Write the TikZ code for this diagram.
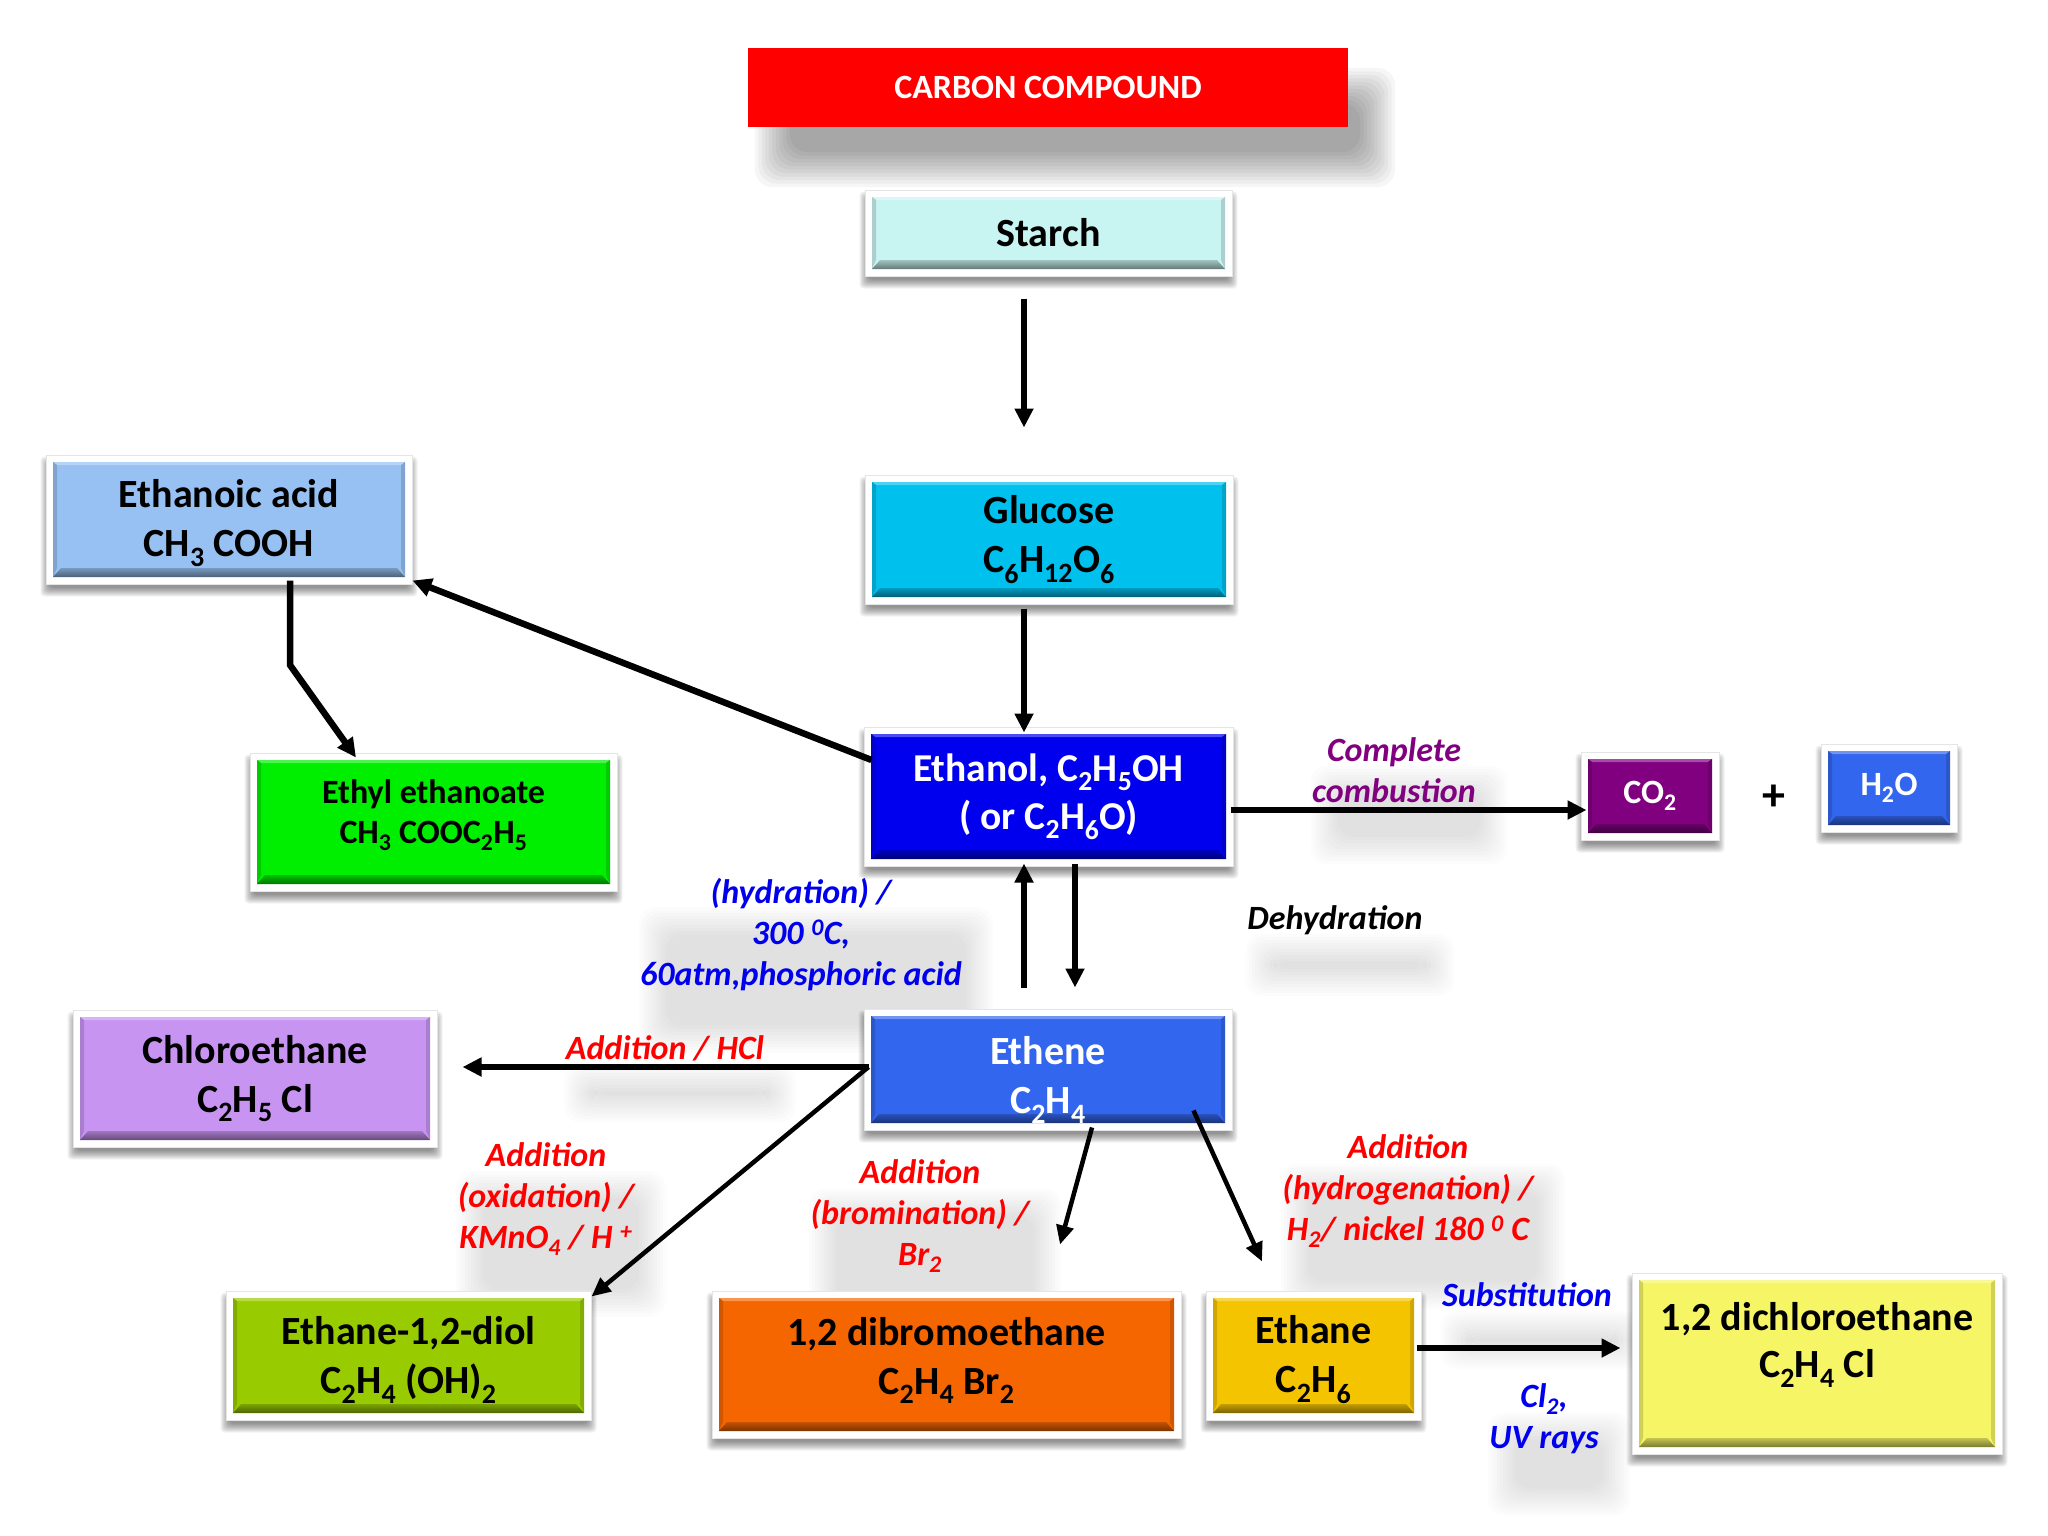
\documentclass[tikz,border=0pt]{standalone}
\usepackage{fontspec}
\setmainfont{Carlito}
\usetikzlibrary{arrows.meta}
\pgfdeclarelayer{bg}
\pgfsetlayers{bg,main}
\definecolor{cStarch}{HTML}{C8F4F2}
\definecolor{cGlucose}{HTML}{00C0EE}
\definecolor{cAcid}{HTML}{96C1F2}
\definecolor{cEthyl}{HTML}{00EE00}
\definecolor{cEthanol}{HTML}{0000EE}
\definecolor{cCO}{HTML}{800080}
\definecolor{cWater}{HTML}{3366EE}
\definecolor{cEthene}{HTML}{3366EE}
\definecolor{cChloro}{HTML}{C894F2}
\definecolor{cDiol}{HTML}{99CC00}
\definecolor{cDibromo}{HTML}{F56600}
\definecolor{cEthane}{HTML}{F5C400}
\definecolor{cDichloro}{HTML}{F5F566}
\definecolor{lRed}{HTML}{FF0000}
\definecolor{lBlue}{HTML}{0000EE}
\definecolor{lPurple}{HTML}{800080}
\newcommand\sub[1]{\textsubscript{#1}}
\tikzset{
  boxfont/.style={font=\bfseries\fontsize{40}{49}\selectfont, align=center},
  box/.style={rectangle, inner sep=0pt, fill=white, draw=black!10, line width=1pt, boxfont,
    path picture={
      \fill[#1] ([shift={(7pt,7pt)}]path picture bounding box.south west) rectangle ([shift={(-7pt,-7pt)}]path picture bounding box.north east);
      \fill[#1!70!white] ([shift={(7pt,-7pt)}]path picture bounding box.north west) -- ([shift={(-7pt,-7pt)}]path picture bounding box.north east) -- ([shift={(-10pt,-10pt)}]path picture bounding box.north east) -- ([shift={(10pt,-10pt)}]path picture bounding box.north west) -- cycle;
      \fill[#1!85!black] ([shift={(7pt,7pt)}]path picture bounding box.south west) -- ([shift={(11pt,16pt)}]path picture bounding box.south west) -- ([shift={(11pt,-10pt)}]path picture bounding box.north west) -- ([shift={(7pt,-7pt)}]path picture bounding box.north west) -- cycle;
      \fill[#1!85!black] ([shift={(-7pt,7pt)}]path picture bounding box.south east) -- ([shift={(-11pt,16pt)}]path picture bounding box.south east) -- ([shift={(-11pt,-10pt)}]path picture bounding box.north east) -- ([shift={(-7pt,-7pt)}]path picture bounding box.north east) -- cycle;
      \shade[top color=#1!80!black, bottom color=#1!50!black] ([shift={(7pt,7pt)}]path picture bounding box.south west) -- ([shift={(-7pt,7pt)}]path picture bounding box.south east) -- ([shift={(-15pt,16pt)}]path picture bounding box.south east) -- ([shift={(15pt,16pt)}]path picture bounding box.south west) -- cycle;
    }},
  lab/.style={font=\bfseries\itshape\fontsize{34}{41}\selectfont, align=center},
  arr/.style={line width=6.5pt, -{Triangle[length=19pt,width=18pt]}},
  arrthin/.style={line width=4.5pt, -{Triangle[length=19pt,width=17pt]}},
  smudge/.style={black, opacity=0.01, rounded corners=16pt},
  tshadow/.style={black, opacity=0.035, rounded corners=18pt},
  fshadow/.style={black, opacity=0.05, rounded corners=4pt},
}
\begin{document}
\begin{tikzpicture}[x=1pt,y=-1pt]
\begin{pgfonlayer}{bg}
\useasboundingbox[fill=white] (0,0) rectangle (2048,1536);
\end{pgfonlayer}
% title
\node[fill=lRed, minimum width=600pt, minimum height=79pt, inner sep=0pt,
  text=white, font=\bfseries\fontsize{34}{40}\selectfont] (title) at (1048,87.5) {CARBON COMPOUND};
% boxes
\node[box=cStarch, minimum width=367pt, minimum height=86pt] (starch) at (1048.5,233) {Starch};
\node[box=cGlucose, minimum width=368pt, minimum height=129pt] (glucose) at (1049,539.5) {Glucose\\C\sub6H\sub{12}O\sub6};
\node[box=cEthanol, minimum width=369pt, minimum height=139pt, text=white, font=\bfseries\fontsize{39.5}{48}\selectfont] (ethanol) at (1048.5,796.5) {Ethanol, C\sub2H\sub5OH\\( or C\sub2H\sub6O)};
\node[box=cAcid, minimum width=366pt, minimum height=129pt] (acid) at (229,519.5) {};
\node[boxfont] (acidT) at (229,523) {Ethanoic acid\\CH\sub3 COOH};
\node[box=cEthyl, minimum width=367pt, minimum height=138pt, font=\bfseries\fontsize{34}{40}\selectfont] (ethyl) at (433.5,822) {Ethyl ethanoate\\CH\sub3 COOC\sub2H\sub5\\[-20pt]\mbox{}};
\node[box=cCO, minimum width=138pt, minimum height=88pt, text=white, font=\bfseries\fontsize{34}{40}\selectfont] (co2) at (1650,796) {CO\sub2};
\node[box=cWater, minimum width=136pt, minimum height=88pt, text=white, font=\bfseries\fontsize{34}{40}\selectfont] (h2o) at (1889,788) {H\sub2O};
\node[font=\bfseries\fontsize{46}{46}\selectfont] (plus) at (1774,798) {+};
\node[box=cEthene, minimum width=368pt, minimum height=121pt] (ethene) at (1048,1069.5) {};
\node[boxfont, text=white] (etheneT) at (1048,1080) {Ethene\\C\sub2H\sub4};
\node[box=cChloro, minimum width=364pt, minimum height=137pt] (chloro) at (255,1078.5) {Chloroethane\\C\sub2H\sub5 Cl};
\node[box=cDiol, minimum width=365pt, minimum height=129pt] (diol) at (408.5,1355.5) {};
\node[boxfont] (diolT) at (408.5,1360) {Ethane-1,2-diol\\C\sub2H\sub4 (OH)\sub2};
\node[box=cDibromo, minimum width=469pt, minimum height=147pt] (dibromo) at (946.5,1364.5) {};
\node[boxfont] (dibromoT) at (946.5,1360.5) {1,2 dibromoethane\\C\sub2H\sub4 Br\sub2};
\node[box=cEthane, minimum width=215pt, minimum height=129pt] (ethane) at (1313.5,1355.5) {};
\node[boxfont] (ethaneT) at (1313.5,1359.5) {Ethane\\C\sub2H\sub6};
\node[box=cDichloro, minimum width=370pt, minimum height=181pt, font=\bfseries\fontsize{40}{47}\selectfont] (dichloro) at (1817,1363.5) {1,2 dichloroethane\\C\sub2H\sub4 Cl\\\mbox{}};
% labels
\node[lab, text=lPurple] (lcomb) at (1394,770) {Complete\\combustion};
\node[lab] (ldehyd) at (1335,920) {Dehydration};
\node[lab, text=lBlue] (lhyd) at (801,935) {(hydration) /\\300 \textsuperscript{0}C,\\60atm,phosphoric acid};
\node[lab, text=lRed] (lhcl) at (665,1048) {Addition / HCl};
\node[lab, text=lRed] (lox) at (546,1199) {Addition\\(oxidation) /\\KMnO\sub4 / H \textsuperscript{+}};
\node[lab, text=lRed] (lbr) at (920,1216.5) {Addition\\(bromination) /\\Br\sub2};
\node[lab, text=lRed] (lhyg) at (1408,1191.5) {Addition\\(hydrogenation) /\\H\sub2/ nickel 180 \textsuperscript{0} C};
\node[lab, text=lBlue] (lsub) at (1527,1295) {Substitution};
\node[lab, text=lBlue] (lcl) at (1544,1419) {Cl\sub2,\\UV rays};
% soft shadows behind title, frames and labels
\begin{pgfonlayer}{bg}
\foreach \e in {0,3.5,...,35} {
  \fill[tshadow] ([shift={({(42-\e)*1pt},{(-25-\e)*1pt})}]title.south west) rectangle ([shift={({(12+\e)*1pt},{(-55+\e)*1pt})}]title.north east);
}
\foreach \n in {starch,glucose,ethanol,acid,ethyl,co2,h2o,ethene,chloro,diol,dibromo,ethane,dichloro} {
  \foreach \e in {0,1,...,9} {
    \fill[fshadow] ([shift={({(4-\e)*1pt},{(-3-\e)*1pt})}]\n.south west) rectangle ([shift={({(\e-4)*1pt},{(\e-11)*1pt})}]\n.north east);
  }
}
\foreach \n in {lcomb,ldehyd,lhyd,lhcl,lox,lbr,lhyg,lsub,lcl} {
  \foreach \e in {0,3,...,27} {
    \fill[smudge] ([shift={({(29-\e)*1pt},{(-31-\e)*1pt})}]\n.south west) rectangle ([shift={({(\e+1)*1pt},{(\e-59)*1pt})}]\n.north east);
  }
}
\end{pgfonlayer}
% connectors
\draw[arr] ([xshift=-24.5pt,yshift=-22pt]starch.south) -- ([xshift=-25pt,yshift=47pt]glucose.north);
\draw[arr] ([xshift=-25pt,yshift=-4pt]glucose.south) -- ([xshift=-24.5pt,yshift=-6pt]ethanol.north);
\draw[arr] ([xshift=-24pt,yshift=21pt]ethene.north) -- ([xshift=-24.5pt,yshift=3pt]ethanol.south);
\draw[arr] ([xshift=26.5pt,yshift=3pt]ethanol.south) -- ([xshift=27pt,yshift=21pt]ethene.north);
\draw[arr] ([yshift=-13.5pt,xshift=-3pt]ethanol.east) -- ([yshift=-14pt,xshift=6pt]co2.west);
\draw[arr] ([yshift=36.5pt,xshift=8pt]ethanol.west) -- ([yshift=4pt]acid.south east);
\coordinate (bend) at (290,665);
\draw[arr, line join=miter] ([xshift=61pt,yshift=4pt]acid.south) -- (bend) -- ([xshift=-77.5pt,yshift=-5pt]ethyl.north);
\draw[arr] ([yshift=2.5pt,xshift=5pt]ethene.west) -- ([xshift=25pt,yshift=11.5pt]chloro.east);
\draw[arrthin] ([yshift=2.5pt,xshift=5pt]ethene.west) -- ([yshift=-6pt]diol.north east);
\draw[arrthin] ([xshift=44pt,yshift=3pt]ethene.south) -- ([xshift=113.5pt,yshift=46pt]dibromo.north);
\draw[arrthin] ([xshift=-39pt,yshift=20pt]ethene.south east) -- ([xshift=-51.5pt,yshift=29pt]ethane.north);
\draw[arr] ([xshift=-5pt,yshift=7.5pt]ethane.east) -- ([xshift=-11pt,yshift=15.5pt]dichloro.west);
\end{tikzpicture}
\end{document}
